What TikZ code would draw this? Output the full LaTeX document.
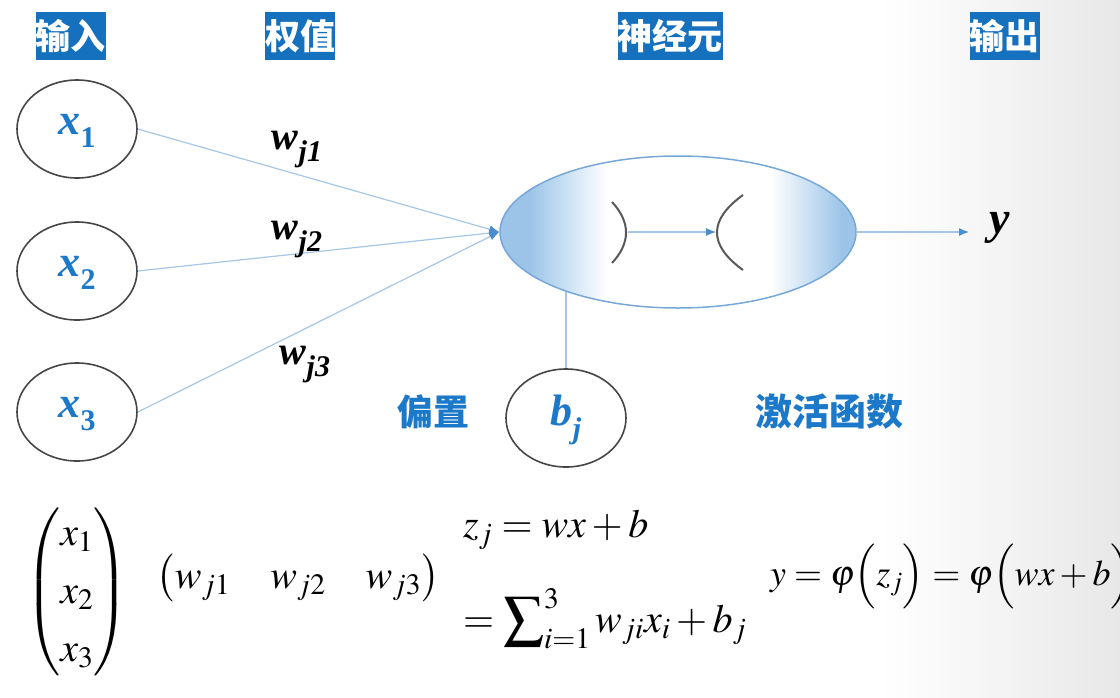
\documentclass[tikz,border=0pt]{standalone}
\usepackage{amsmath}
\usepackage{mathptmx}
\usepackage{fontspec}
\setmainfont{Liberation Serif}
\newfontfamily\cjk{Noto Sans CJK SC}
\usetikzlibrary{arrows.meta,shapes.geometric,backgrounds}
\definecolor{hdr}{RGB}{21,112,190}
\definecolor{lblue}{RGB}{28,120,200}
\definecolor{conn}{RGB}{165,198,228}
\definecolor{tipc}{RGB}{75,140,205}
\definecolor{nblue}{RGB}{155,196,232}
\definecolor{nedge}{RGB}{120,168,215}
\definecolor{ring}{RGB}{70,70,70}
\definecolor{bggray}{RGB}{232,232,232}
\pgfdeclarehorizontalshading{neuronfill}{100bp}{color(0bp)=(nblue); color(29bp)=(nblue); color(40bp)=(white); color(63bp)=(white); color(73bp)=(nblue); color(100bp)=(nblue)}
\newcommand\bv[2]{\textbf{\textit{#1}}\raisebox{-0.3em}{\fontsize{30}{32}\selectfont\bfseries #2}}
\tikzset{
  hdrbox/.style={fill=hdr, text=white, font=\cjk\bfseries\fontsize{35}{38}\selectfont, minimum height=48, inner xsep=0, inner ysep=0},
  inp/.style={ellipse, draw=ring, line width=1.6, minimum width=120, minimum height=98, inner sep=0},
  invar/.style={text=lblue, font=\fontsize{44}{48}\selectfont},
  wlab/.style={font=\fontsize{40}{44}\selectfont},
  cn/.style={draw=conn, line width=1.2},
  cnarrow/.style={cn, -{Latex[length=10pt,width=8pt,color=tipc]}},
  cjklab/.style={text=lblue, font=\cjk\bfseries\fontsize{36}{40}\selectfont},
  arcst/.style={draw=ring!90, line width=2},
  mth/.style={font=\fontsize{40}{48}\selectfont, inner sep=0}
}
\begin{document}
\begin{tikzpicture}[x=1pt,y=-1pt]
\useasboundingbox (0,0) rectangle (1120,697);
\begin{scope}[on background layer]
  \shade[left color=white, right color=bggray] (880,0) rectangle (1120,697);
\end{scope}
% headers
\node[hdrbox, minimum width=69] (h1) at (70.5,36) {输入};
\node[hdrbox, minimum width=68] (h2) at (300,36) {权值};
\node[hdrbox, minimum width=102] (h3) at (670,36) {神经元};
\node[hdrbox, minimum width=69] (h4) at (1004.5,36) {输出};
% inputs
\node[inp] (x1) at (77,129) {};
\node[inp] (x2) at (77,271) {};
\node[inp] (x3) at (77,412) {};
\node[invar] at (77,131) {\bv{x}{1}};
\node[invar] at (77,273) {\bv{x}{2}};
\node[invar] at (77,414) {\bv{x}{3}};
% neuron
\node[ellipse, minimum width=356, minimum height=152, draw=nedge, line width=1.5, shading=neuronfill, inner sep=0] (n) at (678,232) {};
% bias
\node[inp] (b) at (566,418) {};
\node[invar] at (566,420) {\bv{b}{\itshape j}};
\begin{scope}[on background layer]
  \draw[cn] (b.north) -- (b.north |- n.center);
\end{scope}
% connectors
\draw[cnarrow] (x1.east) -- (n.west);
\draw[cnarrow] (x2.east) -- (n.west);
\draw[cnarrow] (x3.east) -- (n.west);
% weights
\node[wlab] at (297,150) {\bv{w}{\itshape j1}};
\node[wlab] at (297,240) {\bv{w}{\itshape j2}};
\node[wlab] at (305,365) {\bv{w}{\itshape j3}};
% inside neuron
\draw[arcst] (612,202) .. controls (630.7,222) and (630.7,243) .. (612,263);
\draw[arcst] (743,195) .. controls (708.3,220) and (708.3,245) .. (743,270);
\coordinate (r1) at (628,232);
\coordinate (l2) at (716,232);
\draw[cnarrow] (r1) -- (l2);
% output
\node[font=\fontsize{46}{50}\selectfont, inner sep=0] (yl) at (1000,228) {\textbf{\textit{y}}};
\coordinate (ytip) at (969,232);
\draw[cnarrow] (n.east) -- (ytip);
% chinese labels
\node[cjklab] (bias) at (433,412) {偏置};
\node[cjklab, font=\cjk\bfseries\fontsize{37}{40}\selectfont] (act) at (829,412) {激活函数};
% formulas
\node[mth] (xv) at (77,592) {$\renewcommand\arraystretch{1.2}\begin{pmatrix} x_1\\ x_2\\ x_3\end{pmatrix}$};
\node[mth] (wv) at (298,578) {$\left(w_{j1}\quad w_{j2}\quad w_{j3}\right)$};
\node[mth, anchor=base west] (z1) at (463,537) {$z_j = wx+b$};
\node[mth, anchor=base west] (z2) at (463,632) {$=\displaystyle\sum\nolimits_{i=1}^{3} w_{ji}x_i+b_j$};
\node[mth, font=\fontsize{36}{44}\selectfont, anchor=base west] (yf) at (770,585) {$y=\varphi\Bigl(z_j\Bigr)=\varphi\Bigl(wx+b\Bigr)$};
\end{tikzpicture}
\end{document}
